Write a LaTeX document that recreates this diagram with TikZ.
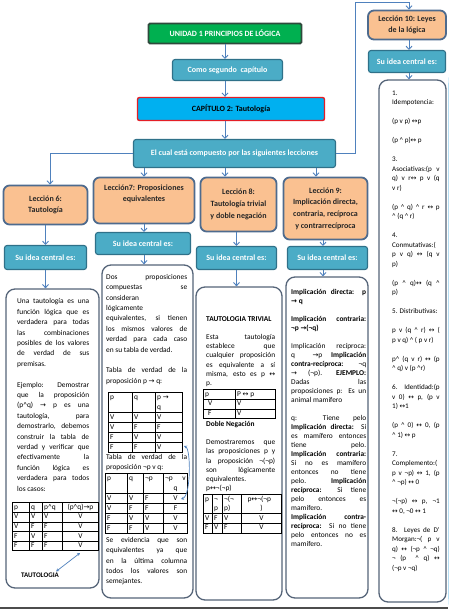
\documentclass[tikz,border=0pt]{standalone}
\usepackage{fontspec}
\usepackage{array}
\setmainfont{Carlito}
\newfontfamily\arrowf{DejaVu Sans}[Scale=0.95]
\usetikzlibrary{arrows.meta}
\pgfdeclarelayer{glow}
\pgfsetlayers{glow,main}
\definecolor{tealc}{HTML}{4BACC6}
\definecolor{tealb}{HTML}{2F7189}
\definecolor{greenc}{HTML}{00B050}
\definecolor{greenb}{HTML}{2E4A3C}
\definecolor{capc}{HTML}{00B0F0}
\definecolor{capb}{HTML}{E41E26}
\definecolor{peach}{HTML}{FAC191}
\definecolor{lessb}{HTML}{4E6B8E}
\definecolor{cardb}{HTML}{566579}
\definecolor{connc}{HTML}{4F81BD}
\definecolor{glowa}{HTML}{DCF0FA}
\definecolor{glowb}{HTML}{B5DEF3}
\setlength\arrayrulewidth{0.5pt}
\setlength\tabcolsep{1.5pt}
\newcommand\RA{{\arrowf →}}
\newcommand\LR{{\arrowf ↔}}
\newcommand\ct{\textasciicircum}
\newcommand\hb{\bfseries\fontsize{8}{11.7}\selectfont}
\newcommand\bodyf[2]{\fontsize{#1}{#2}\selectfont\hyphenpenalty=10000\exhyphenpenalty=10000\tolerance=10000\parindent=0pt\parskip=0pt}
\newcommand\blank{\par\vspace{\baselineskip}}
\tikzset{
  greenbox/.style={rectangle, rounded corners=1.5pt, fill=greenc, draw=greenb, line width=1.8pt, text=white, font=\hb, align=center, inner sep=0pt},
  capbox/.style={rectangle, rounded corners=2pt, fill=capc, draw=capb, line width=1.4pt, text=black, font=\hb, align=center, inner sep=0pt},
  teal/.style={rectangle, rounded corners=2.5pt, fill=tealc, draw=tealb, line width=1.1pt, text=white, font=\hb, align=center, inner sep=0pt},
  lesson/.style={rectangle, rounded corners=6pt, fill=peach, draw=lessb, line width=1.8pt, text=black!85, font=\hb, align=center, inner sep=0pt},
  card/.style={rectangle, rounded corners=9pt, fill=white, draw=cardb, line width=1.3pt, inner sep=0pt},
  sz/.style 2 args={minimum width=#1pt, minimum height=#2pt},
  body/.style={anchor=north west, inner sep=0pt, align=justify, text=black},
  tbl/.style={anchor=north west, inner sep=0pt, text=black},
  conn/.style={draw=connc, line width=0.9pt, -{Straight Barb[length=3.2pt,width=6pt]}},
  dbl/.style={draw=connc, line width=0.7pt, {Stealth[length=3pt,width=3.2pt]}-{Stealth[length=3pt,width=3.2pt]}},
  glowA/.style={draw=glowa, line width=15pt, rounded corners=12pt},
  glowB/.style={draw=glowb, line width=7pt, rounded corners=10pt},
}
\begin{document}
\begin{tikzpicture}[x=1pt,y=-1pt]
\useasboundingbox (0,0) rectangle (448,609);
\fill[white] (0,0) rectangle (448,609);
% top chain
\node[greenbox, sz={153}{20}] (u) at (225,33.5) {UNIDAD 1 PRINCIPIOS DE LÓGICA};
\node[teal, sz={110}{21}] (como) at (227.5,70) {Como segundo\ \ capítulo};
\node[capbox, sz={187}{23}] (cap) at (231,109) {CAPÍTULO 2: Tautología};
\node[teal, sz={202}{28}] (cual) at (234.5,153.5) {El cual está compuesto por las siguientes lecciones};
% lessons
\node[lesson, sz={84}{39}] (l6) at (45.5,205) {Lección 6:\\Tautología};
\node[lesson, sz={101}{46}] (l7) at (144,200.5) {Lección7: Proposiciones\\equivalentes\\[3pt]};
\node[lesson, sz={76}{54}] (l8) at (238.5,204.5) {Lección 8:\\Tautología trivial\\y doble negación};
\node[lesson, sz={84}{62}] (l9) at (325.5,208.5) {Lección 9:\\Implicación directa,\\contraria, recíproca\\y contrarrecíproca};
\node[lesson, sz={78}{29}] (l10) at (407,25) {Lección 10: Leyes\\de la lógica};
% idea boxes
\node[teal, sz={82}{24}] (s6) at (45.5,257.5) {Su idea central es:};
\node[teal, sz={95}{22}] (s7) at (143,243.5) {Su idea central es:};
\node[teal, sz={80}{23}] (s8) at (236.5,258) {Su idea central es:};
\node[teal, sz={80}{23}] (s9) at (327.5,258) {Su idea central es:};
\node[teal, sz={77}{22}] (s10) at (407,61.5) {Su idea central es:};
% cards
\node[card, sz={93}{299}] (c6) at (52.5,438.5) {};
\node[card, sz={91}{333}] (c7) at (147.5,431.5) {};
\node[card, sz={86}{313}] (c8) at (239,443.5) {};
\node[card, sz={82}{321}] (c9) at (327,437.5) {};
\node[card, sz={67}{522}] (c10) at (412.5,341) {};
\begin{pgfonlayer}{glow}
\foreach \n in {c6,c7,c8,c9,c10}{
  \path[glowA] (\n.south west) rectangle (\n.north east);
  \path[glowB] (\n.south west) rectangle (\n.north east);
}
\end{pgfonlayer}
% ---- card 6
\node[body, text width=72pt, font={\bodyf{7.4}{10.4}}] (t6) at (17,298.5) {Una tautología es una\linebreak función lógica que es\linebreak verdadera para todas\linebreak las combinaciones\linebreak posibles de los valores\linebreak de verdad de sus\linebreak premisas.\blank Ejemplo: Demostrar\linebreak que la proposición\linebreak (p\ct{}q) \RA{} p es una\linebreak tautología, para\linebreak demostrarlo, debemos\linebreak construir la tabla de\linebreak verdad y verificar que\linebreak efectivamente la\linebreak función lógica es\linebreak verdadera para todos\linebreak los casos:};
\node[tbl, font={\bodyf{7.4}{10.4}}] (tab6) at (12,502) {\def\arraystretch{0.88}\begin{tabular}{|p{13.5pt}|p{9.5pt}|p{16.5pt}|>{\centering\arraybackslash}p{32.5pt}|}
\hline p & q & p\ct{}q & (p\ct{}q)\RA{}p\\ \hline
V & V & V & V\\ \hline
V & F & F & V\\ \hline
F & V & F & V\\ \hline
F & F & F & V\\ \hline
\end{tabular}};
\node[inner sep=0pt, font=\bfseries\fontsize{7}{8}\selectfont] (taut) at (40,575) {TAUTOLOGIA};
\coordinate (v6) at (80,553);
\draw[dbl] ([xshift=-3pt,yshift=1pt]taut.north east) -- (v6);
% ---- card 7
\node[body, text width=81pt, font={\bodyf{7.4}{10.4}}] (t7a) at (106,274) {Dos proposiciones\linebreak compuestas se\linebreak consideran\linebreak lógicamente\linebreak equivalentes, si tienen\linebreak los mismos valores de\linebreak verdad para cada caso\linebreak en su tabla de verdad.\blank Tabla de verdad de la\linebreak proposición p \RA{} q:};
\node[tbl, font={\bodyf{7.4}{10.4}}] (tab7a) at (108,392) {\def\arraystretch{0.9}\begin{tabular}{|p{20.5pt}|p{19.5pt}|p{23.5pt}|}
\hline p & q & p \RA\newline q\\ \hline
V & V & V\\ \hline
V & F & F\\ \hline
F & V & V\\ \hline
F & F & V\\ \hline
\end{tabular}};
\node[body, text width=81pt, font={\bodyf{7.4}{10.4}}] (t7b) at (106,454) {Tabla de verdad de la\linebreak proposición ¬p v q:};
\node[tbl, font={\bodyf{7.4}{10.4}}] (tab7b) at (105,473) {\def\arraystretch{0.9}\begin{tabular}{|p{18.5pt}|p{12.5pt}|p{16.5pt}|>{\centering\arraybackslash}p{20.5pt}|}
\hline p & q & ¬p & ¬p\hfill v\newline q\\ \hline
V & V & F & V\\ \hline
V & F & F & F\\ \hline
F & V & V & V\\ \hline
F & F & V & V\\ \hline
\end{tabular}};
\node[body, text width=81pt, font={\bodyf{7.4}{10.4}}] (t7c) at (106,537) {Se evidencia que son\linebreak equivalentes ya que\linebreak en la última columna\linebreak todos los valores son\linebreak semejantes.};
\coordinate (v7a) at (184,446);
\coordinate (v7b) at (181,499);
\draw[dbl] (v7a) .. controls (191,449) and (191,496) .. (v7b);
% ---- card 8
\node[body, text width=69pt, font={\bodyf{7.4}{9.2}}] (t8a) at (206,316) {\textbf{TAUTOLOGIA TRIVIAL}\blank Esta tautología\linebreak establece que\linebreak cualquier proposición\linebreak es equivalente a sí\linebreak misma, esto es p \LR\linebreak p.};
\node[tbl, font={\bodyf{7.4}{9.2}}] (tab8a) at (203,389) {\begin{tabular}{|p{28.5pt}|p{36.5pt}|}
\hline p & P \LR{} p\\ \hline
\hspace*{3pt}V & V\\ \hline
\hspace*{3pt}F & V\\ \hline
\end{tabular}};
\node[body, text width=69pt, font={\bodyf{7.4}{9.2}}] (t8b) at (206,421) {\textbf{Doble Negación}\blank Demostraremos que\linebreak las proposiciones p y\linebreak la proposición ¬(¬p)\linebreak son lógicamente\linebreak equivalentes.\newline p\LR{}¬(¬p)};
\node[tbl, font={\bodyf{7.4}{9.2}}] (tab8b) at (203,494) {\begin{tabular}{|p{5.5pt}|p{6.5pt}|p{15.5pt}|>{\centering\arraybackslash}p{36.5pt}|}
\hline p & ¬\newline p & ¬(¬\newline p) & p\LR{}¬(¬p\newline )\\ \hline
V & F & V & V\\ \hline
F & V & F & V\\ \hline
\end{tabular}};
% ---- card 9
\node[body, text width=75pt, font={\bodyf{7.4}{9.0}}] (t9) at (291,289.5) {\textbf{Implicación directa: p\linebreak \RA{} q}\blank \textbf{Implicación contraria:\linebreak ¬p \RA(¬q)}\blank Implicación recíproca:\linebreak q \ \RA p \textbf{Implicación}\linebreak \textbf{contra-recíproca:} ¬q\linebreak \RA{} \ (¬p). \textbf{EJEMPLO:}\linebreak Dadas las\linebreak proposiciones p: Es un\linebreak animal mamífero\blank q: Tiene pelo\linebreak \textbf{Implicación directa:} Si\linebreak es mamífero entonces\linebreak tiene pelo.\linebreak \textbf{Implicación contraria:}\linebreak Si no es mamífero\linebreak entonces no tiene\linebreak pelo. \textbf{Implicación}\linebreak \textbf{recíproca:} Si tiene\linebreak pelo entonces es\linebreak mamífero.\newline \textbf{Implicación contra-}\linebreak \textbf{recíproca:} Si no tiene\linebreak pelo entonces no es\linebreak mamífero.};
% ---- card 10
\node[body, text width=47.5pt, font={\bodyf{7.1}{9.5}}] (t10) at (392,90.5) {1.\linebreak Idempotencia:\blank (p v p) \LR{}p\blank (p \ct{} p)\LR{} p\blank 3.\linebreak Asociativas:(p v\linebreak q) v r\LR{} p v (q\linebreak v r)\blank (p \ct{} q) \ct{} r \LR{} p\linebreak \ct{} (q \ct{} r)\blank 4.\linebreak Conmutativas:(\linebreak p v q) \LR{} (q v\linebreak p)\blank (p \ct{} q)\LR{} (q \ct\linebreak p)\blank 5. Distributivas:\blank p v (q \ct{} r) \LR{} (\linebreak p v q) \ct{} ( p v r)\blank p\ct{} (q v r) \LR{} (p\linebreak \ct{} q) v (p \ct{}r)\blank 6. Identidad:(p\linebreak v 0) \LR{} p, (p v\linebreak 1) \LR{}1\blank (p \ct{} 0) \LR{} 0, (p\linebreak \ct{} 1) \LR{} p\blank 7.\linebreak Complemento:(\linebreak p v ¬p) \LR{} 1, (p\linebreak \ct{} ¬p) \LR{} 0\blank ¬(¬p) \LR{} p, ¬1\linebreak \LR{} 0, ¬0 \LR{} 1\blank 8. Leyes de D'\linebreak Morgan:¬( p v\linebreak q) \LR{} (¬p \ct{} ¬q)\linebreak ¬ (p \ \ct{} q) \LR\linebreak (¬p v ¬q)};
% ---- connectors
\draw[conn] (u.south) -- (u.south |- como.north);
\draw[conn] (como.south -| u.south) -- (cap.north -| u.south);
\draw[conn] (cap.south -| u.south) -- (cual.north -| u.south);
\coordinate (a6) at ([xshift=4.5pt]l6.north);
\draw[conn] (cual.west) -| (a6);
\draw[conn] (cual.south -| l7.north) -- (l7.north);
\draw[conn] (cual.south -| u.south) -- (l8.north -| u.south);
\coordinate (a9) at ([xshift=-9.5pt]l9.north);
\draw[conn] (cual.south -| a9) -- (a9);
\coordinate (a10) at ([xshift=2pt]l10.north);
\coordinate (k10) at (355,2);
\draw[conn] (cual.east) -| (k10) -| (a10);
\draw[conn] (l10.south -| a10) -- (s10.north -| a10);
\draw[conn] (s10.south -| a10) -- (c10.north -| a10);
\draw[conn] (l6.south) -- (l6.south |- s6.north);
\draw[conn] (s6.south) -- (s6.south |- c6.north);
\draw[conn] (l7.south) -- (l7.south |- s7.north);
\draw[conn] (s7.south -| l7.south) -- (c7.north -| l7.south);
\draw[conn] (l8.south -| s8.north) -- (s8.north);
\draw[conn] (s8.south) -- (s8.south |- c8.north);
\coordinate (b9) at ([xshift=-4.5pt]s9.north);
\draw[conn] (l9.south -| b9) -- (b9);
\draw[conn] (s9.south -| b9) -- (c9.north -| b9);
\draw[line width=1.5pt, black!70] (0,608) -- (448,608);
\end{tikzpicture}
\end{document}
